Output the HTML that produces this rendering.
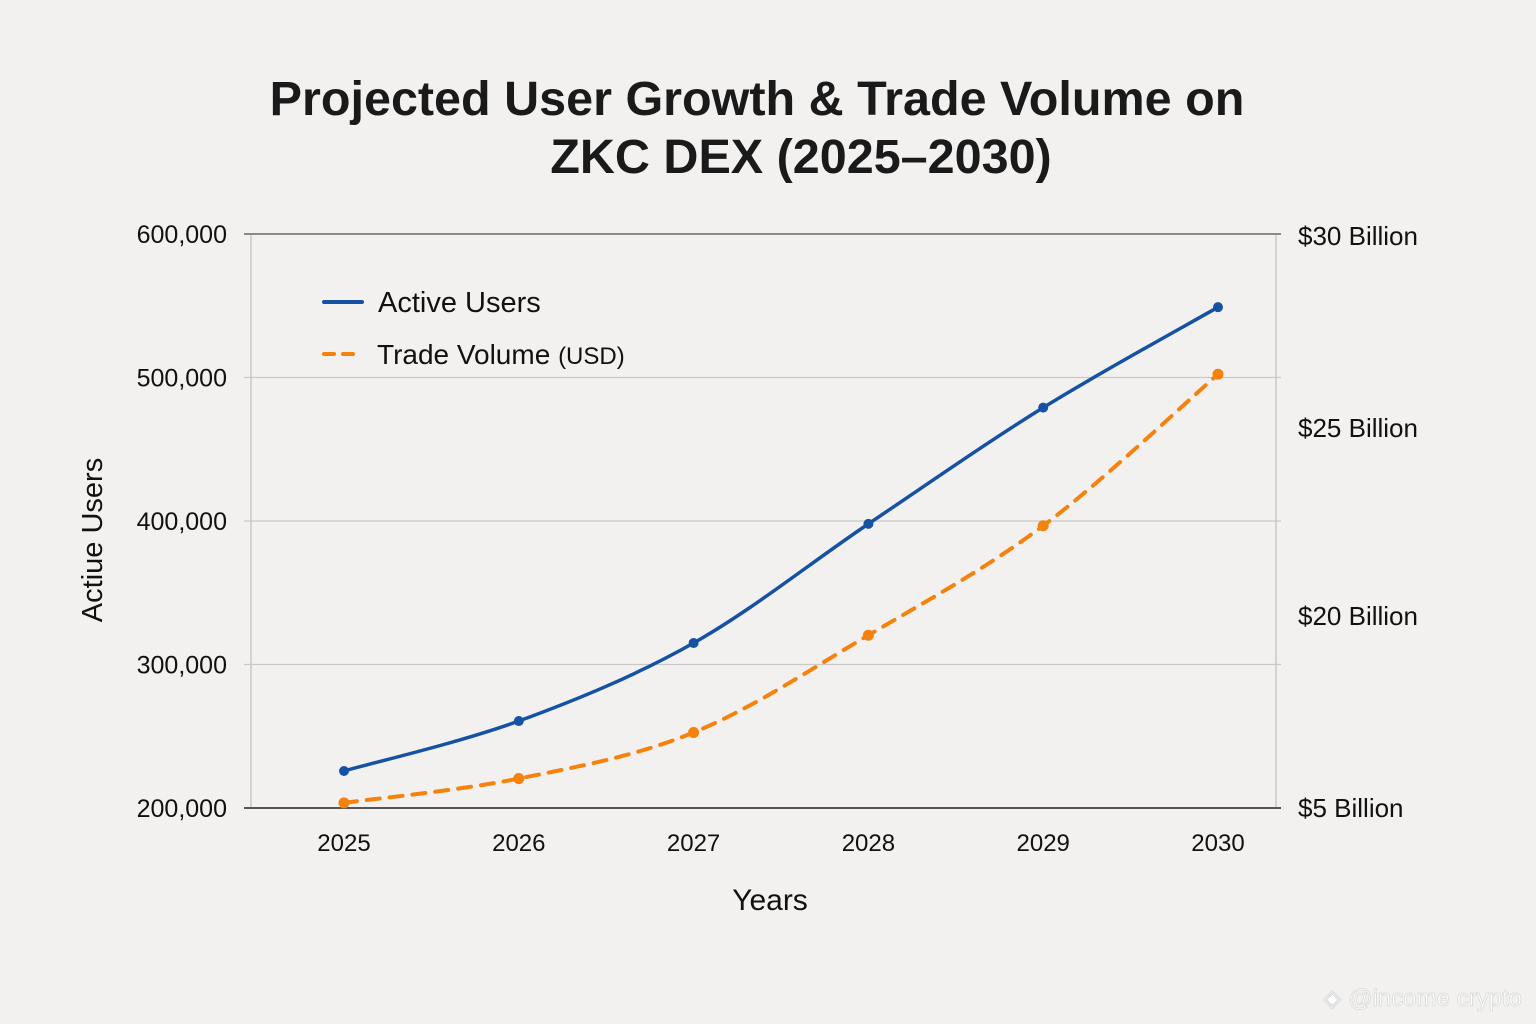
<!DOCTYPE html>
<html><head><meta charset="utf-8"><style>
body{margin:0;background:#f2f1ef;}
svg{display:block;font-family:"Liberation Sans",Arial,sans-serif;}
</style></head><body>
<svg id="chart" width="1536" height="1024" viewBox="0 0 1536 1024">
<rect x="0" y="0" width="1536" height="1024" fill="#f2f1ef"/>
<text x="757" y="115" text-anchor="middle" font-size="48.5" font-weight="bold" fill="#1a1a1a">Projected User Growth &amp; Trade Volume on</text>
<text x="801" y="173" text-anchor="middle" font-size="48.5" font-weight="bold" fill="#1a1a1a">ZKC DEX (2025–2030)</text>
<g id="grid"></g>
<line x1="251" y1="234" x2="251" y2="808" stroke="#c8c8c8" stroke-width="1.5"/>
<line x1="1276" y1="234" x2="1276" y2="808" stroke="#c8c8c8" stroke-width="1.5"/>
<line x1="244" y1="234" x2="1281" y2="234" stroke="#8a8a8a" stroke-width="2"/>
<line x1="244" y1="808" x2="1281" y2="808" stroke="#555" stroke-width="2"/>
<g id="yticks"></g>
<g id="y2ticks"></g>
<g id="xticks"></g>
<text x="770" y="910" text-anchor="middle" font-size="30" fill="#111">Years</text>
<text x="0" y="0" transform="translate(102,540) rotate(-90)" text-anchor="middle" font-size="29" fill="#111">Actiue Users</text>
<g id="series"></g>
<g>
<line x1="324" y1="302" x2="362" y2="302" stroke="#1652a3" stroke-width="4" stroke-linecap="round"/>
<text x="378" y="312" font-size="29" fill="#111">Active Users</text>
<line x1="324" y1="354" x2="362" y2="354" stroke="#f5820c" stroke-width="4" stroke-linecap="round" stroke-dasharray="10 9"/>
<text x="377" y="364" font-size="28" fill="#111">Trade Volume <tspan font-size="24">(USD)</tspan></text>
</g>
<text x="1522" y="1006" text-anchor="end" font-size="24" fill="#ffffff" stroke="#d8d8d8" stroke-width="0.8">◈ @income crypto</text>
</svg>
<script>
const years = ["2025","2026","2027","2028","2029","2030"];
const activeUsers = [225800, 260600, 315000, 398000, 479000, 549000];
const tradeVolumeB = [5.4, 7.3, 10.9, 18.5, 22.4, 26.4];
const leftTicks = [200000, 300000, 400000, 500000, 600000];
const rightTickValues = [5, 20, 25, 30];
const rightTickLabels = ["$5 Billion", "$20 Billion", "$25 Billion", "$30 Billion"];

const NS = "http://www.w3.org/2000/svg";
function mk(tag, attrs, parent){const e=document.createElementNS(NS,tag);for(const k in attrs)e.setAttribute(k,attrs[k]);parent.appendChild(e);return e;}
const xS = i => 344 + i*(1218-344)/5;
const yL = v => 808 - (v-200000)/400000*574;
const rKnotV=[5,20,25,30], rKnotY=[808,616,428,236];
function yR(v){for(let i=0;i<rKnotV.length-1;i++){if(v<=rKnotV[i+1]||i===rKnotV.length-2){const t=(v-rKnotV[i])/(rKnotV[i+1]-rKnotV[i]);return rKnotY[i]+t*(rKnotY[i+1]-rKnotY[i]);}}}
const grid=document.getElementById('grid'), yt=document.getElementById('yticks'), y2=document.getElementById('y2ticks'), xt=document.getElementById('xticks'), ser=document.getElementById('series');
leftTicks.forEach(v=>{
  const y=yL(v);
  if(v>200000&&v<600000){const g=mk('line',{x1:244,x2:1281,y1:y,y2:y,stroke:'#c9c9c9','stroke-width':1.2},grid);
  
  }
  const t=mk('text',{x:227,y:y+9,'text-anchor':'end','font-size':25,fill:'#111'},yt);
  t.textContent=v.toLocaleString('en-US');
  
  
});
rightTickValues.forEach((v,i)=>{
  const t=mk('text',{x:1298,y:yR(v)+9,'font-size':26,fill:'#111'},y2);
  t.textContent=rightTickLabels[i];
  
  
});
years.forEach((yr,i)=>{
  const t=mk('text',{x:xS(i),y:851,'text-anchor':'middle','font-size':24,fill:'#111'},xt);
  t.textContent=yr;
  
  
});
function smooth(pts){let d=`M${pts[0][0]},${pts[0][1]}`;for(let i=0;i<pts.length-1;i++){const p0=pts[Math.max(0,i-1)],p1=pts[i],p2=pts[i+1],p3=pts[Math.min(pts.length-1,i+2)];const c1=[p1[0]+(p2[0]-p0[0])/6,p1[1]+(p2[1]-p0[1])/6],c2=[p2[0]-(p3[0]-p1[0])/6,p2[1]-(p3[1]-p1[1])/6];d+=` C${c1[0]},${c1[1]} ${c2[0]},${c2[1]} ${p2[0]},${p2[1]}`;}return d;}
const up=activeUsers.map((v,i)=>[xS(i),yL(v)]);
const vp=tradeVolumeB.map((v,i)=>[xS(i),yR(v)]);
const l1=mk('path',{d:smooth(vp),fill:'none',stroke:'#f5820c','stroke-width':4,'stroke-dasharray':'13 10','stroke-linecap':'round'},ser);


const l2=mk('path',{d:smooth(up),fill:'none',stroke:'#1652a3','stroke-width':3.5},ser);


vp.forEach(p=>{const c=mk('circle',{cx:p[0],cy:p[1],r:5.5,fill:'#f5820c'},ser);

});
up.forEach(p=>{const c=mk('circle',{cx:p[0],cy:p[1],r:5,fill:'#1652a3'},ser);

});
</script>
</body></html>
